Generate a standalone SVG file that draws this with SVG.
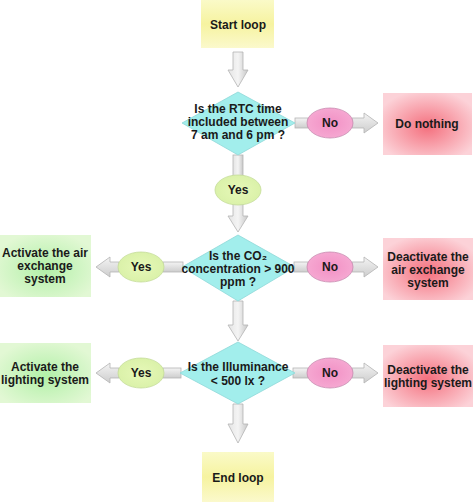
<svg xmlns="http://www.w3.org/2000/svg" width="474" height="502" viewBox="0 0 474 502">
<defs>
<linearGradient id="gY" x1="0" y1="0" x2="0" y2="1"><stop offset="0" stop-color="#fafac8"/><stop offset="0.5" stop-color="#f6f3a0"/><stop offset="1" stop-color="#fbf9cc"/></linearGradient>
<radialGradient id="gR" cx="0.5" cy="0.55" r="0.6"><stop offset="0" stop-color="#f4707e"/><stop offset="1" stop-color="#fcd2d8"/></radialGradient>
<radialGradient id="gG" cx="0.5" cy="0.55" r="0.6"><stop offset="0" stop-color="#b2f0a8"/><stop offset="1" stop-color="#e2f8d4"/></radialGradient>
<radialGradient id="gNo" cx="0.5" cy="0.5" r="0.6"><stop offset="0" stop-color="#f290c4"/><stop offset="1" stop-color="#f6acd4"/></radialGradient>
<radialGradient id="gYes" cx="0.5" cy="0.5" r="0.6"><stop offset="0" stop-color="#e6f8b8"/><stop offset="1" stop-color="#d8f0a6"/></radialGradient>
<linearGradient id="gAv" x1="0" y1="0" x2="1" y2="0"><stop offset="0" stop-color="#e4e4e4"/><stop offset="0.5" stop-color="#f4f4f4"/><stop offset="1" stop-color="#c8c8c8"/></linearGradient>
<linearGradient id="gAh" x1="0" y1="0" x2="0" y2="1"><stop offset="0" stop-color="#f4f4f4"/><stop offset="1" stop-color="#cdcdcd"/></linearGradient>
</defs>
<style>
text{font-family:"Liberation Sans",Arial,sans-serif;font-weight:bold;font-size:12px;fill:#1a1a1a;text-anchor:middle}
.av{fill:url(#gAv);stroke:#b4b4b4;stroke-width:0.8}
.ah{fill:url(#gAh);stroke:#b4b4b4;stroke-width:0.8}
.dia{fill:#a2eeec;stroke:#8ed8d8;stroke-width:0.8}
.no{fill:url(#gNo);stroke:#c88ab0;stroke-width:0.8}
.yes{fill:url(#gYes);stroke:#c4dc98;stroke-width:0.8}
.red{fill:url(#gR)}
.grn{fill:url(#gG)}
.yel{fill:url(#gY)}
</style>
<g id="connectors">
<polygon class="av" points="233,52 243,52 243,70 248,70 238,87 228,70 233,70"/>
<rect class="av" x="233" y="155" width="10" height="22"/>
<polygon class="av" points="233,204 243,204 243,216 248,216 238,232 228,216 233,216"/>
<polygon class="av" points="233,301 243,301 243,325 248,325 238,341 228,325 233,325"/>
<polygon class="av" points="233,404 243,404 243,424 248,424 238,443 228,424 233,424"/>
<rect class="ah" x="295" y="118" width="13" height="10"/>
<polygon class="ah" points="352,118 364,118 364,113 378,123 364,133 364,128 352,128"/>
<rect class="ah" x="294" y="262" width="14" height="10"/>
<polygon class="ah" points="352,262 364,262 364,257 378,267 364,277 364,272 352,272"/>
<rect class="ah" x="293" y="368" width="15" height="10"/>
<polygon class="ah" points="352,368 364,368 364,363 378,373 364,383 364,378 352,378"/>
<rect class="ah" x="163" y="262" width="20" height="10"/>
<polygon class="ah" points="119,262 110,262 110,257 96,267 110,277 110,272 119,272"/>
<rect class="ah" x="163" y="368" width="18" height="10"/>
<polygon class="ah" points="119,368 110,368 110,363 96,373 110,383 110,378 119,378"/>
</g>
<g id="start"><rect class="yel" x="201" y="0" width="73" height="48"/><text x="238" y="29">Start loop</text></g>
<g id="q1"><polygon class="dia" points="238,92 295,123 238,155 182,123"/><text x="238" y="113">Is the RTC time</text><text x="238" y="126">included between</text><text x="238" y="139">7 am and 6 pm ?</text></g>
<g id="no1"><ellipse class="no" cx="330" cy="123" rx="23" ry="15"/><text x="330" y="127">No</text></g>
<g id="nothing"><rect class="red" x="383" y="93" width="89" height="62"/><text x="427" y="128">Do nothing</text></g>
<g id="yes1"><ellipse class="yes" cx="238" cy="190" rx="23" ry="15"/><text x="238" y="194">Yes</text></g>
<g id="q2"><polygon class="dia" points="238,235 295,267 238,301 182,267"/><text x="238" y="260">Is the CO₂</text><text x="238" y="273">concentration &gt; 900</text><text x="238" y="286">ppm ?</text></g>
<g id="yes2"><ellipse class="yes" cx="141" cy="267" rx="23" ry="15"/><text x="141" y="271">Yes</text></g>
<g id="no2"><ellipse class="no" cx="330" cy="267" rx="23" ry="15"/><text x="330" y="271">No</text></g>
<g id="actAir"><rect class="grn" x="0" y="235" width="91" height="62"/><text x="45" y="257">Activate the air</text><text x="45" y="270">exchange</text><text x="45" y="283">system</text></g>
<g id="deactAir"><rect class="red" x="383" y="238" width="90" height="62"/><text x="428" y="261">Deactivate the</text><text x="428" y="274">air exchange</text><text x="428" y="287">system</text></g>
<g id="q3"><polygon class="dia" points="238,342 295,373 238,404 180,373"/><text x="238" y="371">Is the Illuminance</text><text x="238" y="385">&lt; 500 lx ?</text></g>
<g id="yes3"><ellipse class="yes" cx="141" cy="373" rx="23" ry="15"/><text x="141" y="377">Yes</text></g>
<g id="no3"><ellipse class="no" cx="330" cy="373" rx="23" ry="15"/><text x="330" y="377">No</text></g>
<g id="actLight"><rect class="grn" x="0" y="343" width="91" height="60"/><text x="45" y="371">Activate the</text><text x="45" y="384">lighting system</text></g>
<g id="deactLight"><rect class="red" x="383" y="345" width="90" height="62"/><text x="428" y="374">Deactivate the</text><text x="428" y="387">lighting system</text></g>
<g id="end"><rect class="yel" x="202" y="452" width="72" height="50"/><text x="238" y="482">End loop</text></g>
</svg>
